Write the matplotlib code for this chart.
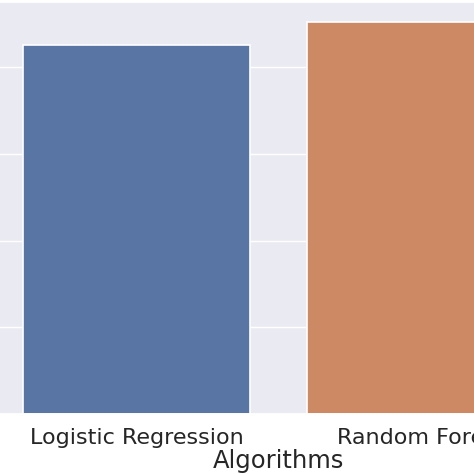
import matplotlib
matplotlib.use("Agg")
import matplotlib.pyplot as plt
import seaborn as sns

# data
algorithms = ["Logistic Regression", "Random Forest"]
accuracy = [0.853, 0.906]
y_ticks = [0.0, 0.2, 0.4, 0.6, 0.8]

sns.set_theme(style="darkgrid")
plt.rcParams['font.family'] = ['DejaVu Sans']

fig = plt.figure(figsize=(4.74, 4.74), dpi=100)
# axes deliberately larger than the canvas (reference is a crop)
ax = fig.add_axes([-0.0116, 0.1266, 1.199, 0.869])

sns.barplot(x=algorithms, y=accuracy, hue=algorithms,
            palette=["#4c72b0", "#dd8452"], saturation=0.75,
            edgecolor="white", linewidth=1.2, ax=ax, legend=False)

ax.set_xlim(-0.5, 1.5)
ax.set_ylim(0, 0.951)
ax.set_yticks(y_ticks)
ax.set_yticklabels([])
ax.tick_params(axis='x', labelsize=16, pad=4, colors="#262626")
ax.set_xlabel("Algorithms", fontsize=17.5, color="#262626")
ax.xaxis.set_label_coords(0.5, -0.086)
ax.set_ylabel("")

fig.savefig("out.png", dpi=100, facecolor="white")
plt.close(fig)
